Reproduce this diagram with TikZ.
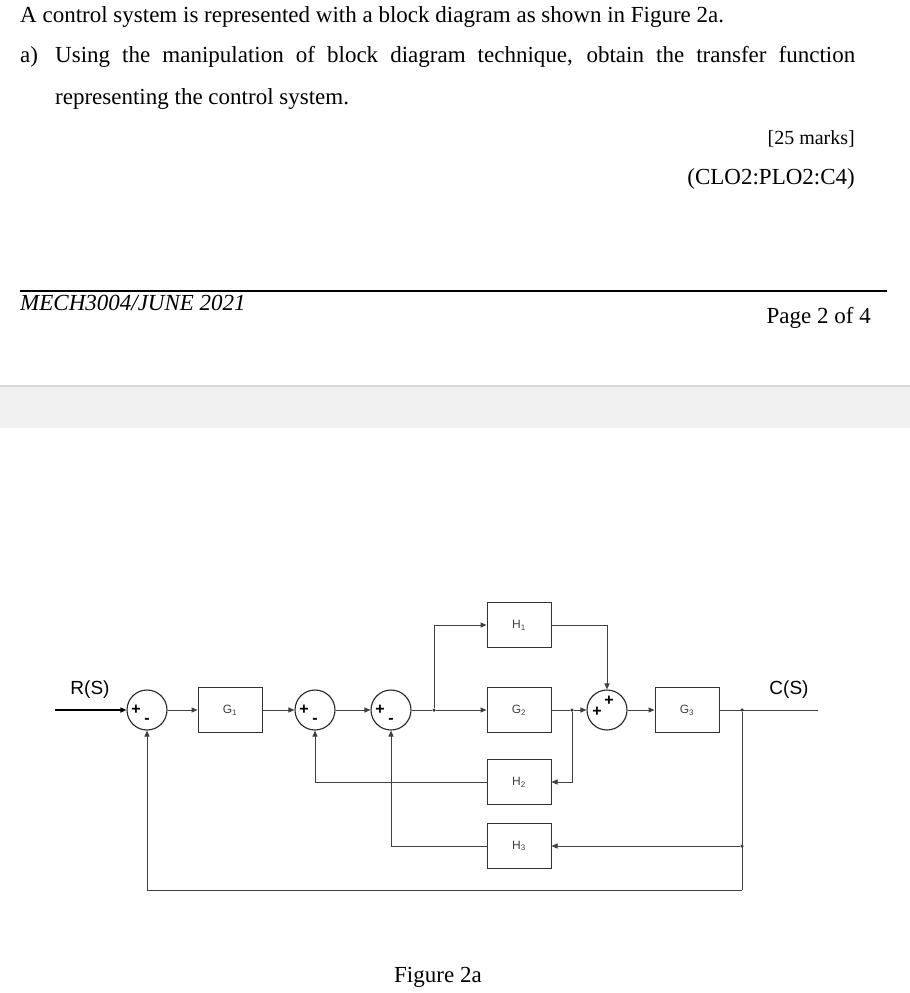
\documentclass[tikz,border=0pt]{standalone}
\usepackage{fontspec}
\setmainfont{Liberation Serif}
\setsansfont{Liberation Sans}
\usetikzlibrary{arrows.meta}
\begin{document}
\begin{tikzpicture}[x=1pt,y=-1pt,
  blk/.style={draw=black!80,line width=1pt,minimum width=64pt,minimum height=45pt,inner sep=0pt,font=\sffamily\fontsize{12}{12}\selectfont,text=black!75},
  sumj/.style={draw=black!85,line width=1.1pt,circle,minimum size=40pt,inner sep=0pt},
  sg/.style={font=\sffamily\bfseries\fontsize{16}{16}\selectfont,inner sep=0pt},
  wire/.style={draw=black!75,line width=1pt},
  arr/.style={wire,-{Triangle[length=6pt,width=5pt]}},
  dot/.style={circle,fill=black!80,inner sep=0pt,minimum size=3.5pt},
  hdr/.style={font=\fontsize{23}{27}\selectfont,inner sep=0pt,anchor=base west}]
\useasboundingbox (0,0) rectangle (910,993);
\fill[white] (0,0) rectangle (910,993);
% header
\node[hdr] (l1) at (20,22) {A control system is represented with a block diagram as shown in Figure 2a.};
\node[hdr] (l2a) at (20,62) {a)};
\node[hdr] (l2) at (55,62) {\makebox[800pt][s]{Using the manipulation of block diagram technique, obtain the transfer function}};
\node[hdr] (l3) at (55,104) {representing the control system.};
\node[hdr,anchor=base east,font=\fontsize{20}{24}\selectfont] (mk) at (855,144) {[25 marks]};
\node[hdr,anchor=base east] (clo) at (855,184) {(CLO2:PLO2:C4)};
\draw[line width=1.2pt] (20,291) -- (887,291);
\node[hdr,font=\itshape\fontsize{23}{27}\selectfont] (mech) at (20,310) {MECH3004/JUNE 2021};
\node[hdr,anchor=base east] (pg) at (871,323) {Page 2 of 4};
\fill[black!6] (0,386) rectangle (910,428);
\draw[black!15,line width=1.5pt] (0,386) -- (910,386);
% diagram
\node[sumj] (s1) at (147,710) {};
\node[blk] (g1) at (230,710) {G\textsubscript{1}};
\node[sumj] (s2) at (315,710) {};
\node[sumj] (s3) at (391,710) {};
\node[blk] (h1) at (519,625) {H\textsubscript{1}};
\node[blk] (g2) at (519,710) {G\textsubscript{2}};
\node[blk] (h2) at (519,782) {H\textsubscript{2}};
\node[blk] (h3) at (519,846) {H\textsubscript{3}};
\node[sumj] (s4) at (607,710) {};
\node[blk] (g3) at (687,710) {G\textsubscript{3}};
\node[dot] (d1) at (434,710) {};
\node[dot] (d2) at (572,710) {};
\node[dot] (d3) at (742,710) {};
\node[dot] (d4) at (742,846) {};
\coordinate (in) at (55,710);
\coordinate (out) at (818,710);
\coordinate (bl) at (742,890);
% signs
\foreach \s in {s1,s2,s3}{
  \node[sg] at ([xshift=-11pt,yshift=0pt]\s.center) {+};
  \node[sg] at ([xshift=0pt,yshift=-11pt]\s.center) {-};}
\node[sg] at ([xshift=-10pt,yshift=-2pt]s4.center) {+};
\node[sg] at ([xshift=2pt,yshift=9pt]s4.center) {+};
\node[font=\sffamily\fontsize{19}{19}\selectfont] (rs) at (90,690) {R(S)};
\node[font=\sffamily\fontsize{19}{19}\selectfont] (cs) at (789,690) {C(S)};
% wires
\draw[arr,line width=1.8pt,black] (in) -- (s1.west);
\draw[arr] (s1.east) -- (g1.west);
\draw[arr] (g1.east) -- (s2.west);
\draw[arr] (s2.east) -- (s3.west);
\draw[wire] (s3.east) -- (d1);
\draw[arr] (d1) -- (g2.west);
\draw[arr] (d1) |- (h1.west);
\draw[arr] (h1.east) -| (s4.north);
\draw[wire] (g2.east) -- (d2);
\draw[arr] (d2) -- (s4.west);
\draw[arr] (d2) |- (h2.east);
\draw[arr] (h2.west) -| (s2.south);
\draw[arr] (s4.east) -- (g3.west);
\draw[wire] (g3.east) -- (out);
\draw[arr] (d4) -- (h3.east);
\draw[arr] (h3.west) -| (s3.south);
\draw[wire] (d3) -- (bl);
\draw[arr] (bl) -| (s1.south);
\node[hdr] (fig) at (394,982) {Figure 2a};
\end{tikzpicture}
\end{document}
